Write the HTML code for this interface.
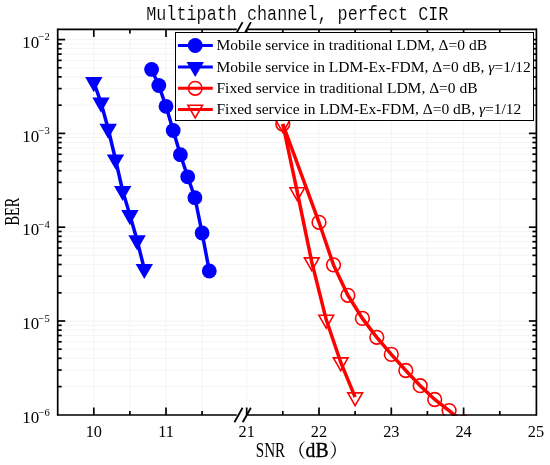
<!DOCTYPE html><html><head><meta charset="utf-8"><style>html,body{margin:0;padding:0;background:#fff;}svg{display:block;}</style></head><body><svg width="550" height="465" viewBox="0 0 550 465">
<rect width="550" height="465" fill="#fff"/>
<defs><clipPath id="c"><rect x="57.7" y="29.4" width="478.7" height="386.40000000000003"/></clipPath></defs>
<g stroke="#f4f4f4" stroke-width="1"><line x1="93.8" y1="29.4" x2="93.8" y2="415.0"/><line x1="129.9" y1="29.4" x2="129.9" y2="415.0"/><line x1="166.0" y1="29.4" x2="166.0" y2="415.0"/><line x1="202.1" y1="29.4" x2="202.1" y2="415.0"/><line x1="246.7" y1="29.4" x2="246.7" y2="415.0"/><line x1="282.8" y1="29.4" x2="282.8" y2="415.0"/><line x1="319.0" y1="29.4" x2="319.0" y2="415.0"/><line x1="355.1" y1="29.4" x2="355.1" y2="415.0"/><line x1="391.3" y1="29.4" x2="391.3" y2="415.0"/><line x1="427.4" y1="29.4" x2="427.4" y2="415.0"/><line x1="463.6" y1="29.4" x2="463.6" y2="415.0"/><line x1="499.8" y1="29.4" x2="499.8" y2="415.0"/><line x1="57.7" y1="105.2" x2="536.4" y2="105.2"/><line x1="57.7" y1="88.6" x2="536.4" y2="88.6"/><line x1="57.7" y1="76.9" x2="536.4" y2="76.9"/><line x1="57.7" y1="67.8" x2="536.4" y2="67.8"/><line x1="57.7" y1="60.4" x2="536.4" y2="60.4"/><line x1="57.7" y1="54.1" x2="536.4" y2="54.1"/><line x1="57.7" y1="48.7" x2="536.4" y2="48.7"/><line x1="57.7" y1="43.9" x2="536.4" y2="43.9"/><line x1="57.7" y1="199.0" x2="536.4" y2="199.0"/><line x1="57.7" y1="182.4" x2="536.4" y2="182.4"/><line x1="57.7" y1="170.7" x2="536.4" y2="170.7"/><line x1="57.7" y1="161.6" x2="536.4" y2="161.6"/><line x1="57.7" y1="154.2" x2="536.4" y2="154.2"/><line x1="57.7" y1="147.9" x2="536.4" y2="147.9"/><line x1="57.7" y1="142.5" x2="536.4" y2="142.5"/><line x1="57.7" y1="137.7" x2="536.4" y2="137.7"/><line x1="57.7" y1="292.8" x2="536.4" y2="292.8"/><line x1="57.7" y1="276.2" x2="536.4" y2="276.2"/><line x1="57.7" y1="264.5" x2="536.4" y2="264.5"/><line x1="57.7" y1="255.4" x2="536.4" y2="255.4"/><line x1="57.7" y1="248.0" x2="536.4" y2="248.0"/><line x1="57.7" y1="241.7" x2="536.4" y2="241.7"/><line x1="57.7" y1="236.3" x2="536.4" y2="236.3"/><line x1="57.7" y1="231.5" x2="536.4" y2="231.5"/><line x1="57.7" y1="386.6" x2="536.4" y2="386.6"/><line x1="57.7" y1="370.0" x2="536.4" y2="370.0"/><line x1="57.7" y1="358.3" x2="536.4" y2="358.3"/><line x1="57.7" y1="349.2" x2="536.4" y2="349.2"/><line x1="57.7" y1="341.8" x2="536.4" y2="341.8"/><line x1="57.7" y1="335.5" x2="536.4" y2="335.5"/><line x1="57.7" y1="330.1" x2="536.4" y2="330.1"/><line x1="57.7" y1="325.3" x2="536.4" y2="325.3"/><line x1="57.7" y1="39.6" x2="536.4" y2="39.6"/><line x1="57.7" y1="133.4" x2="536.4" y2="133.4"/><line x1="57.7" y1="227.2" x2="536.4" y2="227.2"/><line x1="57.7" y1="321.0" x2="536.4" y2="321.0"/><line x1="57.7" y1="414.8" x2="536.4" y2="414.8"/></g>
<g clip-path="url(#c)">
<polyline points="93.8,82.1 101.0,102.7 108.2,128.8 115.5,159.5 122.7,191.0 129.9,215.1 137.1,240.3 144.3,269.0" fill="none" stroke="#0000ff" stroke-width="3.5"/>
<polygon points="85.1,77.0 102.5,77.0 93.8,92.2" fill="#0000ff"/><polygon points="92.3,97.6 109.7,97.6 101.0,112.8" fill="#0000ff"/><polygon points="99.5,123.7 116.9,123.7 108.2,138.9" fill="#0000ff"/><polygon points="106.8,154.4 124.2,154.4 115.5,169.6" fill="#0000ff"/><polygon points="114.0,185.9 131.4,185.9 122.7,201.1" fill="#0000ff"/><polygon points="121.2,210.0 138.6,210.0 129.9,225.2" fill="#0000ff"/><polygon points="128.4,235.2 145.8,235.2 137.1,250.4" fill="#0000ff"/><polygon points="135.6,263.9 153.0,263.9 144.3,279.1" fill="#0000ff"/>
<polyline points="151.6,69.4 158.8,85.5 166.0,106.3 173.2,130.5 180.4,154.7 187.7,176.8 194.9,197.7 202.1,233.0 209.3,271.0" fill="none" stroke="#0000ff" stroke-width="3.5"/>
<circle cx="151.6" cy="69.4" r="7.4" fill="#0000ff"/><circle cx="158.8" cy="85.5" r="7.4" fill="#0000ff"/><circle cx="166.0" cy="106.3" r="7.4" fill="#0000ff"/><circle cx="173.2" cy="130.5" r="7.4" fill="#0000ff"/><circle cx="180.4" cy="154.7" r="7.4" fill="#0000ff"/><circle cx="187.7" cy="176.8" r="7.4" fill="#0000ff"/><circle cx="194.9" cy="197.7" r="7.4" fill="#0000ff"/><circle cx="202.1" cy="233.0" r="7.4" fill="#0000ff"/><circle cx="209.3" cy="271.0" r="7.4" fill="#0000ff"/>
<circle cx="282.8" cy="124.0" r="6.85" fill="none" stroke="#ff0000" stroke-width="1.6"/><circle cx="319.0" cy="222.3" r="6.85" fill="none" stroke="#ff0000" stroke-width="1.6"/><circle cx="333.5" cy="264.9" r="6.85" fill="none" stroke="#ff0000" stroke-width="1.6"/><circle cx="347.9" cy="295.3" r="6.85" fill="none" stroke="#ff0000" stroke-width="1.6"/><circle cx="362.4" cy="318.4" r="6.85" fill="none" stroke="#ff0000" stroke-width="1.6"/><circle cx="376.8" cy="337.3" r="6.85" fill="none" stroke="#ff0000" stroke-width="1.6"/><circle cx="391.3" cy="354.4" r="6.85" fill="none" stroke="#ff0000" stroke-width="1.6"/><circle cx="405.8" cy="370.5" r="6.85" fill="none" stroke="#ff0000" stroke-width="1.6"/><circle cx="420.2" cy="385.7" r="6.85" fill="none" stroke="#ff0000" stroke-width="1.6"/><circle cx="434.7" cy="399.5" r="6.85" fill="none" stroke="#ff0000" stroke-width="1.6"/><circle cx="449.1" cy="410.6" r="6.85" fill="none" stroke="#ff0000" stroke-width="1.6"/><circle cx="463.6" cy="422.5" r="6.85" fill="none" stroke="#ff0000" stroke-width="1.6"/>
<polygon points="275.5,119.7 290.2,119.7 282.8,132.5" fill="none" stroke="#ff0000" stroke-width="1.6"/><polygon points="290.0,187.8 304.6,187.8 297.3,200.6" fill="none" stroke="#ff0000" stroke-width="1.6"/><polygon points="304.4,257.9 319.1,257.9 311.8,270.7" fill="none" stroke="#ff0000" stroke-width="1.6"/><polygon points="318.9,315.3 333.6,315.3 326.2,328.1" fill="none" stroke="#ff0000" stroke-width="1.6"/><polygon points="333.4,357.9 348.0,357.9 340.7,370.7" fill="none" stroke="#ff0000" stroke-width="1.6"/><polygon points="347.8,392.9 362.5,392.9 355.1,405.7" fill="none" stroke="#ff0000" stroke-width="1.6"/>
<polyline points="282.8,124.0 319.0,222.3 333.5,264.9 347.9,295.3 362.4,318.4 376.8,337.3 391.3,354.4 405.8,370.5 420.2,385.7 434.7,399.5 449.1,410.6 463.6,422.5" fill="none" stroke="#ff0000" stroke-width="3.5"/>
<polyline points="282.8,124.0 297.3,192.1 311.8,262.2 326.2,319.6 340.7,362.2 355.1,397.2" fill="none" stroke="#ff0000" stroke-width="3.5"/>
</g>
<g stroke="#000" stroke-width="1.7" fill="none"><line x1="57.7" y1="28.549999999999997" x2="57.7" y2="415.85"/><line x1="536.4" y1="28.549999999999997" x2="536.4" y2="415.85"/><line x1="57.7" y1="29.4" x2="236.8" y2="29.4"/><line x1="247.4" y1="29.4" x2="536.4" y2="29.4"/><line x1="57.7" y1="415.0" x2="236.8" y2="415.0"/><line x1="247.4" y1="415.0" x2="536.4" y2="415.0"/><line x1="93.8" y1="415.0" x2="93.8" y2="407.5"/><line x1="93.8" y1="29.4" x2="93.8" y2="36.9"/><line x1="166.0" y1="415.0" x2="166.0" y2="407.5"/><line x1="166.0" y1="29.4" x2="166.0" y2="36.9"/><line x1="246.7" y1="415.0" x2="246.7" y2="407.5"/><line x1="246.7" y1="29.4" x2="246.7" y2="36.9"/><line x1="319.0" y1="415.0" x2="319.0" y2="407.5"/><line x1="319.0" y1="29.4" x2="319.0" y2="36.9"/><line x1="391.3" y1="415.0" x2="391.3" y2="407.5"/><line x1="391.3" y1="29.4" x2="391.3" y2="36.9"/><line x1="463.6" y1="415.0" x2="463.6" y2="407.5"/><line x1="463.6" y1="29.4" x2="463.6" y2="36.9"/><line x1="129.9" y1="415.0" x2="129.9" y2="411.0"/><line x1="129.9" y1="29.4" x2="129.9" y2="33.4"/><line x1="202.1" y1="415.0" x2="202.1" y2="411.0"/><line x1="202.1" y1="29.4" x2="202.1" y2="33.4"/><line x1="282.8" y1="415.0" x2="282.8" y2="411.0"/><line x1="282.8" y1="29.4" x2="282.8" y2="33.4"/><line x1="355.1" y1="415.0" x2="355.1" y2="411.0"/><line x1="355.1" y1="29.4" x2="355.1" y2="33.4"/><line x1="427.4" y1="415.0" x2="427.4" y2="411.0"/><line x1="427.4" y1="29.4" x2="427.4" y2="33.4"/><line x1="499.8" y1="415.0" x2="499.8" y2="411.0"/><line x1="499.8" y1="29.4" x2="499.8" y2="33.4"/><line x1="57.7" y1="39.6" x2="65.2" y2="39.6"/><line x1="536.4" y1="39.6" x2="528.9" y2="39.6"/><line x1="57.7" y1="133.4" x2="65.2" y2="133.4"/><line x1="536.4" y1="133.4" x2="528.9" y2="133.4"/><line x1="57.7" y1="227.2" x2="65.2" y2="227.2"/><line x1="536.4" y1="227.2" x2="528.9" y2="227.2"/><line x1="57.7" y1="321.0" x2="65.2" y2="321.0"/><line x1="536.4" y1="321.0" x2="528.9" y2="321.0"/><line x1="57.7" y1="105.2" x2="61.7" y2="105.2"/><line x1="536.4" y1="105.2" x2="532.4" y2="105.2"/><line x1="57.7" y1="88.6" x2="61.7" y2="88.6"/><line x1="536.4" y1="88.6" x2="532.4" y2="88.6"/><line x1="57.7" y1="76.9" x2="61.7" y2="76.9"/><line x1="536.4" y1="76.9" x2="532.4" y2="76.9"/><line x1="57.7" y1="67.8" x2="61.7" y2="67.8"/><line x1="536.4" y1="67.8" x2="532.4" y2="67.8"/><line x1="57.7" y1="60.4" x2="61.7" y2="60.4"/><line x1="536.4" y1="60.4" x2="532.4" y2="60.4"/><line x1="57.7" y1="54.1" x2="61.7" y2="54.1"/><line x1="536.4" y1="54.1" x2="532.4" y2="54.1"/><line x1="57.7" y1="48.7" x2="61.7" y2="48.7"/><line x1="536.4" y1="48.7" x2="532.4" y2="48.7"/><line x1="57.7" y1="43.9" x2="61.7" y2="43.9"/><line x1="536.4" y1="43.9" x2="532.4" y2="43.9"/><line x1="57.7" y1="199.0" x2="61.7" y2="199.0"/><line x1="536.4" y1="199.0" x2="532.4" y2="199.0"/><line x1="57.7" y1="182.4" x2="61.7" y2="182.4"/><line x1="536.4" y1="182.4" x2="532.4" y2="182.4"/><line x1="57.7" y1="170.7" x2="61.7" y2="170.7"/><line x1="536.4" y1="170.7" x2="532.4" y2="170.7"/><line x1="57.7" y1="161.6" x2="61.7" y2="161.6"/><line x1="536.4" y1="161.6" x2="532.4" y2="161.6"/><line x1="57.7" y1="154.2" x2="61.7" y2="154.2"/><line x1="536.4" y1="154.2" x2="532.4" y2="154.2"/><line x1="57.7" y1="147.9" x2="61.7" y2="147.9"/><line x1="536.4" y1="147.9" x2="532.4" y2="147.9"/><line x1="57.7" y1="142.5" x2="61.7" y2="142.5"/><line x1="536.4" y1="142.5" x2="532.4" y2="142.5"/><line x1="57.7" y1="137.7" x2="61.7" y2="137.7"/><line x1="536.4" y1="137.7" x2="532.4" y2="137.7"/><line x1="57.7" y1="292.8" x2="61.7" y2="292.8"/><line x1="536.4" y1="292.8" x2="532.4" y2="292.8"/><line x1="57.7" y1="276.2" x2="61.7" y2="276.2"/><line x1="536.4" y1="276.2" x2="532.4" y2="276.2"/><line x1="57.7" y1="264.5" x2="61.7" y2="264.5"/><line x1="536.4" y1="264.5" x2="532.4" y2="264.5"/><line x1="57.7" y1="255.4" x2="61.7" y2="255.4"/><line x1="536.4" y1="255.4" x2="532.4" y2="255.4"/><line x1="57.7" y1="248.0" x2="61.7" y2="248.0"/><line x1="536.4" y1="248.0" x2="532.4" y2="248.0"/><line x1="57.7" y1="241.7" x2="61.7" y2="241.7"/><line x1="536.4" y1="241.7" x2="532.4" y2="241.7"/><line x1="57.7" y1="236.3" x2="61.7" y2="236.3"/><line x1="536.4" y1="236.3" x2="532.4" y2="236.3"/><line x1="57.7" y1="231.5" x2="61.7" y2="231.5"/><line x1="536.4" y1="231.5" x2="532.4" y2="231.5"/><line x1="57.7" y1="386.6" x2="61.7" y2="386.6"/><line x1="536.4" y1="386.6" x2="532.4" y2="386.6"/><line x1="57.7" y1="370.0" x2="61.7" y2="370.0"/><line x1="536.4" y1="370.0" x2="532.4" y2="370.0"/><line x1="57.7" y1="358.3" x2="61.7" y2="358.3"/><line x1="536.4" y1="358.3" x2="532.4" y2="358.3"/><line x1="57.7" y1="349.2" x2="61.7" y2="349.2"/><line x1="536.4" y1="349.2" x2="532.4" y2="349.2"/><line x1="57.7" y1="341.8" x2="61.7" y2="341.8"/><line x1="536.4" y1="341.8" x2="532.4" y2="341.8"/><line x1="57.7" y1="335.5" x2="61.7" y2="335.5"/><line x1="536.4" y1="335.5" x2="532.4" y2="335.5"/><line x1="57.7" y1="330.1" x2="61.7" y2="330.1"/><line x1="536.4" y1="330.1" x2="532.4" y2="330.1"/><line x1="57.7" y1="325.3" x2="61.7" y2="325.3"/><line x1="536.4" y1="325.3" x2="532.4" y2="325.3"/></g>
<g stroke="#000" stroke-width="1.8"><line x1="234.4" y1="36.7" x2="242.6" y2="22.1"/><line x1="242.7" y1="36.7" x2="250.9" y2="22.1"/><line x1="234.4" y1="422.3" x2="242.6" y2="407.7"/><line x1="242.7" y1="422.3" x2="250.9" y2="407.7"/></g>
<rect x="175.5" y="32.5" width="358.0" height="88.0" fill="#fff" stroke="#000" stroke-width="1"/>
<line x1="177.9" y1="45.5" x2="212.8" y2="45.5" stroke="#0000ff" stroke-width="3.1"/><circle cx="195.2" cy="45.5" r="7.4" fill="#0000ff"/><line x1="177.9" y1="67.0" x2="212.8" y2="67.0" stroke="#0000ff" stroke-width="3.1"/><polygon points="186.5,61.9 203.9,61.9 195.2,77.1" fill="#0000ff"/><circle cx="195.2" cy="88.3" r="6.85" fill="none" stroke="#ff0000" stroke-width="1.6"/><line x1="177.9" y1="88.3" x2="212.8" y2="88.3" stroke="#ff0000" stroke-width="3.1"/><polygon points="187.9,105.2 202.5,105.2 195.2,118.0" fill="none" stroke="#ff0000" stroke-width="1.6"/><line x1="177.9" y1="109.5" x2="212.8" y2="109.5" stroke="#ff0000" stroke-width="3.1"/>
<g font-family="Liberation Serif, serif" font-size="15.5" fill="#000">
<text x="216.5" y="50.2">Mobile service in traditional LDM, &#916;=0 dB</text>
<text x="216.5" y="71.7">Mobile service in LDM-Ex-FDM, &#916;=0 dB, <tspan font-style="italic">&#947;</tspan>=1/12</text>
<text x="216.5" y="93.0">Fixed service in traditional LDM, &#916;=0 dB</text>
<text x="216.5" y="114.2">Fixed service in LDM-Ex-FDM, &#916;=0 dB, <tspan font-style="italic">&#947;</tspan>=1/12</text>
</g>
<g font-family="Liberation Serif, serif" font-size="16.3" fill="#000" text-anchor="middle">
<text x="93.8" y="437.0">10</text>
<text x="166.0" y="437.0">11</text>
<text x="246.7" y="437.0">21</text>
<text x="319.0" y="437.0">22</text>
<text x="391.3" y="437.0">23</text>
<text x="463.6" y="437.0">24</text>
<text x="535.9" y="437.0">25</text>
</g>
<g font-family="Liberation Serif, serif" fill="#000">
<text x="22.3" y="47.7" font-size="16.9">10<tspan font-size="10.6" dx="-0.7" dy="-7.3">&#8722;2</tspan></text>
<text x="22.3" y="141.5" font-size="16.9">10<tspan font-size="10.6" dx="-0.7" dy="-7.3">&#8722;3</tspan></text>
<text x="22.3" y="235.3" font-size="16.9">10<tspan font-size="10.6" dx="-0.7" dy="-7.3">&#8722;4</tspan></text>
<text x="22.3" y="329.1" font-size="16.9">10<tspan font-size="10.6" dx="-0.7" dy="-7.3">&#8722;5</tspan></text>
<text x="22.3" y="422.9" font-size="16.9">10<tspan font-size="10.6" dx="-0.7" dy="-7.3">&#8722;6</tspan></text>
</g>
<text transform="translate(146.2,19.6) scale(1,1.24)" font-family="Liberation Mono, monospace" font-size="16.8" fill="#000" stroke="#fff" stroke-width="0.12">Multipath channel, perfect CIR</text>
<text transform="translate(255.8,457.3) scale(0.72,1)" font-family="Liberation Serif, serif" font-size="21" fill="#000">SNR</text>
<text x="287" y="458" font-family="Liberation Serif, Noto Serif CJK SC, serif" font-size="19" fill="#000">（</text>
<text transform="translate(305.6,457.0) scale(0.94,1)" font-family="Liberation Serif, serif" font-size="21" fill="#000" stroke="#000" stroke-width="0.35">dB</text>
<text x="329.3" y="458" font-family="Liberation Serif, Noto Serif CJK SC, serif" font-size="19" fill="#000">）</text>
<text transform="translate(19.3,225.6) rotate(-90) scale(0.72,1)" font-family="Liberation Serif, serif" font-size="20" fill="#000">BER</text>
</svg></body></html>
